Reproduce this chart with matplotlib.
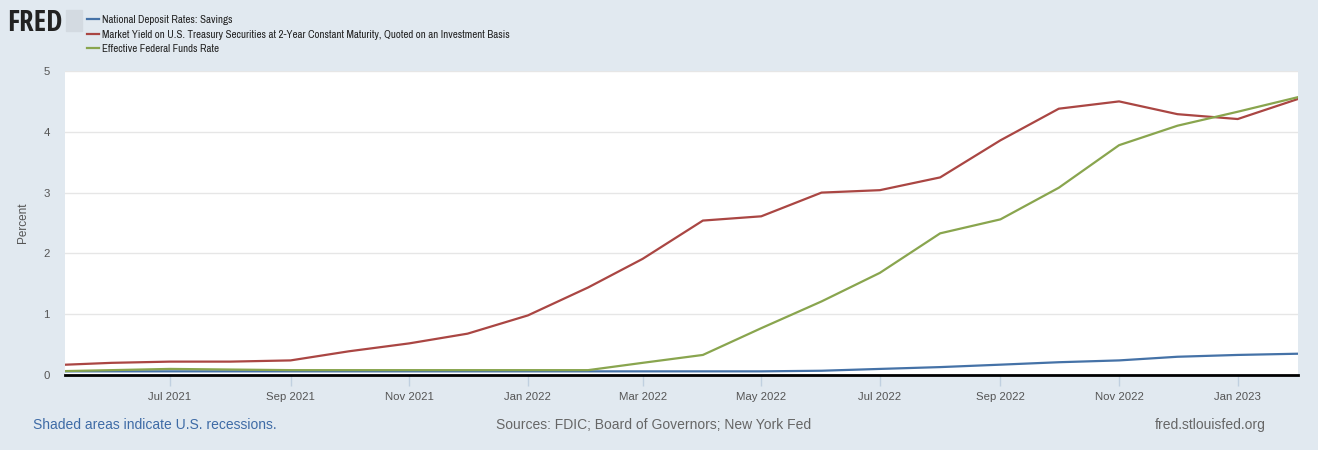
import datetime as dt
import matplotlib
matplotlib.use("Agg")
import matplotlib.pyplot as plt
import matplotlib.dates as mdates
from matplotlib.patches import Rectangle

# monthly observations, May 2021 .. Feb 2023
months = [dt.date(2021, m, 1) for m in range(5, 13)] + \
         [dt.date(2022, m, 1) for m in range(1, 13)] + \
         [dt.date(2023, m, 1) for m in range(1, 3)]

savings = [0.06, 0.06, 0.06, 0.06, 0.06, 0.06, 0.06, 0.06,
           0.06, 0.06, 0.06, 0.06, 0.06, 0.07, 0.10, 0.13, 0.17, 0.21, 0.24, 0.30,
           0.33, 0.35]
treasury_2y = [0.16, 0.20, 0.22, 0.22, 0.24, 0.39, 0.52, 0.68,
               0.98, 1.44, 1.91, 2.54, 2.61, 3.00, 3.04, 3.25, 3.86, 4.38, 4.50, 4.29,
               4.21, 4.54]
fed_funds = [0.06, 0.08, 0.10, 0.09, 0.08, 0.08, 0.08, 0.08,
             0.08, 0.08, 0.20, 0.33, 0.77, 1.21, 1.68, 2.33, 2.56, 3.08, 3.78, 4.10,
             4.33, 4.57]

labels = ["National Deposit Rates: Savings",
          "Market Yield on U.S. Treasury Securities at 2-Year Constant Maturity, Quoted on an Investment Basis",
          "Effective Federal Funds Rate"]
colors = ["#4572A7", "#AA4643", "#89A54E"]

x_ticks = [dt.date(2021, 7, 1), dt.date(2021, 9, 1), dt.date(2021, 11, 1),
           dt.date(2022, 1, 1), dt.date(2022, 3, 1), dt.date(2022, 5, 1),
           dt.date(2022, 7, 1), dt.date(2022, 9, 1), dt.date(2022, 11, 1),
           dt.date(2023, 1, 1)]
y_ticks = [0, 1, 2, 3, 4, 5]

bg = "#E1E9F0"
font = "Liberation Sans"
narrow = ["Archivo Narrow", "Liberation Sans", "DejaVu Sans"]

fig = plt.figure(figsize=(13.18, 4.5), dpi=100, facecolor=bg)
ax = fig.add_axes([65 / 1318, 75 / 450, 1233 / 1318, 304 / 450])
ax.set_facecolor("white")

for vals, lab, col in zip([savings, treasury_2y, fed_funds], labels, colors):
    ax.plot(months, vals, color=col, lw=1.6, label=lab, solid_joinstyle="round")

ax.set_xlim(dt.date(2021, 5, 8), dt.date(2023, 2, 1))
ax.set_ylim(0, 5)

# axes styling
for s in ["top", "right", "left"]:
    ax.spines[s].set_visible(False)
ax.spines["bottom"].set_color("black")
ax.spines["bottom"].set_linewidth(2)
ax.grid(axis="y", color="#E6E6E6", lw=1)
ax.set_axisbelow(True)

ax.set_xticks(x_ticks)
ax.xaxis.set_major_formatter(mdates.DateFormatter("%b %Y"))
ax.tick_params(axis="x", length=8, width=1, color="#C0D0E0", pad=4,
               labelsize=8.2, labelcolor="#555555")
ax.set_yticks(y_ticks)
ax.tick_params(axis="y", length=0, pad=11, labelsize=8.2, labelcolor="#555555")
for t in ax.get_xticklabels() + ax.get_yticklabels():
    t.set_fontfamily(font)
ax.set_ylabel("Percent", fontsize=8.5, color="#555555", family=font, labelpad=10)

# legend in the header
leg = fig.legend(loc="upper left", bbox_to_anchor=(87 / 1318, 1 - 15 / 450),
                 frameon=False, handlelength=1.1, handletextpad=0.3,
                 labelspacing=0.42, borderpad=0, borderaxespad=0,
                 prop={"family": narrow, "size": 7.9})
for t in leg.get_texts():
    t.set_color("#222222")

# FRED logo
fig.text(7 / 1318, 1 - 31 / 450, "FRED", family=["Open Sans Condensed", "Liberation Sans"],
         weight="bold", fontsize=21, color="#222222", va="baseline")
fig.patches.append(Rectangle((66 / 1318, 1 - 31 / 450), 16 / 1318, 21 / 450,
                             transform=fig.transFigure, color="#D3DAE1", zorder=1))

# footer
fig.text(33 / 1318, 1 - 425 / 450, "Shaded areas indicate U.S. recessions.",
         family=font, fontsize=10, color="#3E6BA6", va="center")
fig.text(496 / 1318, 1 - 425 / 450, "Sources: FDIC; Board of Governors; New York Fed",
         family=font, fontsize=10, color="#666666", va="center")
fig.text(1266 / 1318, 1 - 425 / 450, "fred.stlouisfed.org",
         family=font, fontsize=10, color="#666666", va="center", ha="right")

fig.savefig("out.png", dpi=100, facecolor=bg)
